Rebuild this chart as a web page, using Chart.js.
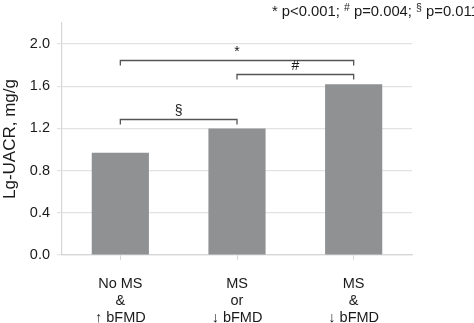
<!DOCTYPE html>
<html>
<head>
<meta charset="utf-8">
<script src="https://cdn.jsdelivr.net/npm/chart.js@4/dist/chart.umd.min.js"></script>
<style>
  html, body { margin: 0; padding: 0; background: #fff; }
  #wrap { width: 474px; height: 323px; }
</style>
</head>
<body>
<div id="wrap"><canvas id="myChart" width="474" height="323"></canvas></div>
<script>
const categories = [['No MS', '&', '\u2191 bFMD'], ['MS', 'or', '\u2193 bFMD'], ['MS', '&', '\u2193 bFMD']];
const lgUacr = [0.97, 1.20, 1.62];
const yTicks = [0, 0.4, 0.8, 1.2, 1.6, 2.0];

// significance brackets: from bar, to bar, height (data units), mark
const bracketFrom = [0, 1, 0];
const bracketTo = [2, 2, 1];
const bracketLevel = [1.85, 1.72, 1.29];
const bracketMark = ['*', '#', '\u00a7'];

const FONT = '"Liberation Sans", Arial, sans-serif';

const brackets = {
  id: 'brackets',
  afterDatasetsDraw(chart) {
    const { ctx, scales: { x, y } } = chart;
    ctx.save();
    ctx.strokeStyle = '#555';
    ctx.lineWidth = 1.3;
    ctx.fillStyle = '#1a1a1a';
    ctx.font = '14px ' + FONT;
    ctx.textAlign = 'center';
    ctx.textBaseline = 'bottom';
    bracketLevel.forEach((lvl, i) => {
      const x1 = x.getPixelForValue(bracketFrom[i]);
      const x2 = x.getPixelForValue(bracketTo[i]);
      const yy = Math.round(y.getPixelForValue(lvl)) + 0.5;
      ctx.beginPath();
      ctx.moveTo(x1, yy + 5);
      ctx.lineTo(x1, yy);
      ctx.lineTo(x2, yy);
      ctx.lineTo(x2, yy + 5);
      ctx.stroke();
      ctx.fillText(bracketMark[i], (x1 + x2) / 2, yy - 1);
    });
    ctx.restore();
  }
};

// p-value note with superscript marks
const pNote = {
  id: 'pNote',
  afterDraw(chart) {
    const { ctx } = chart;
    const parts = [
      ['* p<0.001; ', false], ['#', true], [' p=0.004; ', false], ['\u00a7', true], [' p=0.011', false]
    ];
    ctx.save();
    ctx.fillStyle = '#1a1a1a';
    ctx.textBaseline = 'alphabetic';
    let px = 272;
    parts.forEach(([t, sup]) => {
      ctx.font = (sup ? '10.5px ' : '14.8px ') + FONT;
      ctx.fillText(t, px, sup ? 11 : 16);
      px += ctx.measureText(t).width;
    });
    ctx.restore();
  }
};

const ctx = document.getElementById('myChart').getContext('2d');

new Chart(ctx, {
  type: 'bar',
  data: {
    labels: categories,
    datasets: [{
      data: lgUacr,
      backgroundColor: '#8f9192',
      barPercentage: 0.49,
      categoryPercentage: 1
    }]
  },
  options: {
    responsive: false,
    animation: false,
    layout: { padding: { top: 23, right: 62, left: 0, bottom: 0 } },
    scales: {
      y: {
        min: 0,
        max: 2.2,
        afterBuildTicks: axis => { axis.ticks = yTicks.map(v => ({ value: v })); },
        afterFit: axis => { axis.width = 62; },
        ticks: {
          font: { family: FONT, size: 14.5 },
          color: '#1a1a1a',
          padding: 7,
          callback: v => v.toFixed(1)
        },
        grid: { color: '#e2e2e2', tickLength: 5, lineWidth: 1.2 },
        border: { color: '#d6d6d6', width: 1.2 },
        title: {
          display: true,
          text: 'Lg-UACR, mg/g',
          font: { family: FONT, size: 17 },
          color: '#1a1a1a',
          padding: { top: 0, bottom: 0 }
        }
      },
      x: {
        afterFit: axis => { axis.height = 68; },
        ticks: {
          font: { family: FONT, size: 14.5, lineHeight: 1.17 },
          color: '#1a1a1a',
          padding: 16,
          maxRotation: 0
        },
        grid: { display: true, drawOnChartArea: false, offset: false, tickLength: 5, color: '#d6d6d6' },
        border: { color: '#d6d6d6', width: 1.2 }
      }
    },
    plugins: {
      legend: { display: false },
      tooltip: { enabled: false }
    }
  },
  plugins: [brackets, pNote]
});
</script>
</body>
</html>
